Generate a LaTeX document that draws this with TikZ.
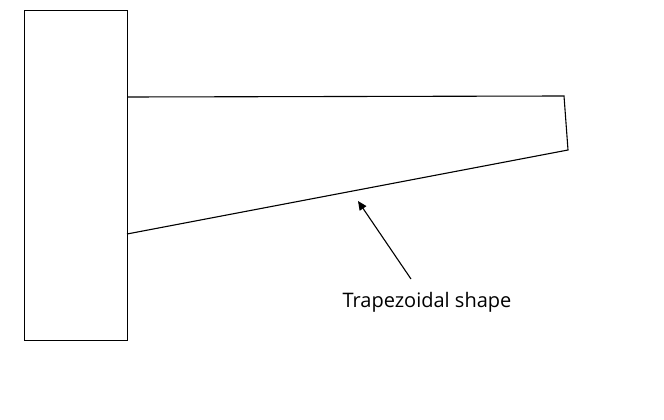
\documentclass[tikz,border=0pt]{standalone}
\usepackage{fontspec}
\setmainfont{Open Sans}
\usetikzlibrary{arrows.meta}
\begin{document}
\begin{tikzpicture}[x=1pt,y=-1pt,
  edge/.style={draw=black, line width=1.1pt},
  lbl/.style={font=\fontsize{20}{24}\selectfont, inner sep=0pt}]
\useasboundingbox (0,0) rectangle (664,420);
\node[draw=black, line width=1.2pt, minimum width=103pt, minimum height=330pt, inner sep=0pt, anchor=north west] (wall) at (24,10) {};
\coordinate (a) at (127,97);
\coordinate (b) at (564,96);
\coordinate (c) at (568,150);
\coordinate (d) at (127,234);
\draw[edge] (a) -- (b) -- (c) -- (d);
\node[lbl] (t) at (427,302) {Trapezoidal shape};
\coordinate (tail) at (411,279);
\coordinate (tip) at (358,201);
\draw[edge, -{Triangle[length=9pt,width=8pt]}] (tail) -- (tip);
\end{tikzpicture}
\end{document}
